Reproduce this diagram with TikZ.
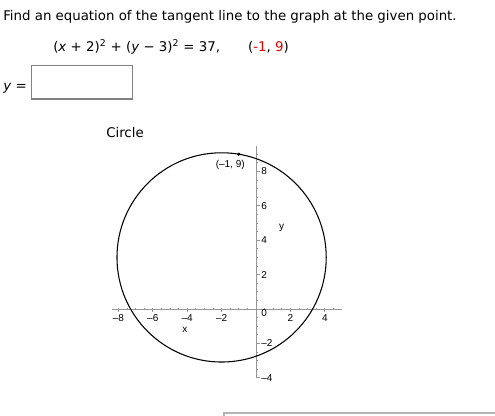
\documentclass[tikz,border=0pt]{standalone}
\usepackage{fontspec}
\setmainfont{DejaVu Sans}
\newfontfamily\plotfont{Liberation Sans}
\usetikzlibrary{positioning}
\definecolor{axisgray}{RGB}{150,150,150}
\definecolor{boxgray}{RGB}{130,130,130}
\definecolor{ptred}{RGB}{230,0,0}
\tikzset{
  txt/.style={inner sep=0pt,anchor=base west,font=\fontsize{10}{12}\selectfont},
  lbl/.style={inner sep=0pt,font=\plotfont\fontsize{7.5}{8}\selectfont},
  axis/.style={draw=axisgray,line width=0.6pt},
  curve/.style={draw=black,line width=0.8pt},
  ansbox/.style={draw=boxgray,line width=0.9pt,minimum width=75.5pt,minimum height=25pt,inner sep=0pt}
}

\begin{document}
\begin{tikzpicture}[x=0.75pt,y=-0.75pt]
\useasboundingbox (0,0) rectangle (495,415);
\node[txt] (prompt) at (3,20) {Find an equation of the tangent line to the graph at the given point.};
\node[txt] (eqn) at (53,51.5) {(\textit{x} + 2)\textsuperscript{2} + (\textit{y} − 3)\textsuperscript{2} = 37,\hspace{2.1em}(\textcolor{ptred}{-1}, \textcolor{ptred}{9})};
\node[txt] (yeq) at (3,90) {\textit{y} =};
\node[ansbox] (answer) at (82,82.3) {};
\node[txt] (title) at (106,137) {Circle};

\begin{scope}[shift={(256,309)},x=12.9pt,y=12.9pt]
\coordinate (xl) at (-8.4,0);
\coordinate (xr) at (5,0);
\coordinate (yb) at (0,-4);
\coordinate (yt) at (0,9.5);
\draw[axis] (xl) -- (xr);
\draw[axis] (yb) -- (yt);
\foreach \t in {-8,-7.5,...,4.6} \draw[axis] (\t,0.07) -- (\t,-0.07);
\foreach \t in {-4,-3.5,...,9.4} \draw[axis] (0,\t) -- (0.1,\t);
\foreach \t in {-8,-6,-4,-2,2,4} \draw[axis] (\t,0) -- (\t,-0.2);
\foreach \t in {-4,-2,2,4,6,8} \draw[axis] (0,\t) -- (0.22,\t);
\node[lbl] (xm8) at (-8,-0.5) {–8};
\node[lbl] (xm6) at (-6,-0.5) {–6};
\node[lbl] (xm4) at (-4,-0.5) {–4};
\node[lbl] (xm2) at (-2,-0.5) {–2};
\node[lbl] (xp2) at (2,-0.5) {2};
\node[lbl] (xp4) at (4,-0.5) {4};
\node[lbl,anchor=west] (y0) at (0.3,-0.25) {0};
\node[lbl,anchor=west] (ym4) at (0.3,-4) {–4};
\node[lbl,anchor=west] (ym2) at (0.3,-2) {–2};
\node[lbl,anchor=west] (yp2) at (0.3,2) {2};
\node[lbl,anchor=west] (yp4) at (0.3,4) {4};
\node[lbl,anchor=west] (yp6) at (0.3,6) {6};
\node[lbl,anchor=west] (yp8) at (0.3,8) {8};
\node[lbl] (xname) at (-4.13,-1.22) {x};
\node[lbl] (yname) at (1.49,4.69) {y};
\draw[curve] (-2,3) circle ({sqrt(37)});
\node[circle,fill=black,inner sep=0pt,minimum size=2.6pt] (pt) at (-1,9) {};
\node[lbl] (ptlbl) at (-1.5,8.4) {(–1, 9)};
\end{scope}

\coordinate (bl) at (224,416);
\coordinate (bc) at (224,413);
\coordinate (br) at (496,413);
\draw[draw=boxgray!60,line width=0.8pt] (bl) -- (bc) -- (br);
\end{tikzpicture}
\end{document}
